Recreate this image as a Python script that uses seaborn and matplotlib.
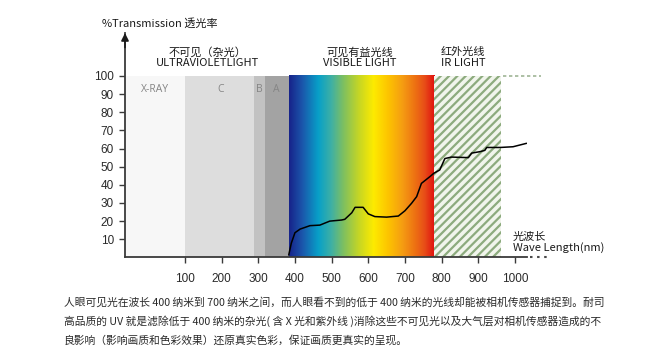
import numpy as np
import pandas as pd
import matplotlib
matplotlib.use("Agg")
import matplotlib.pyplot as plt
from matplotlib.colors import LinearSegmentedColormap
import seaborn as sns

# ---------------- data ----------------
wavelength = [383, 390, 400, 414, 441, 468, 495, 527, 536, 555, 564, 586, 600, 618,
              650, 682, 700, 718, 732, 745, 768, 779, 795, 809, 827, 873, 882, 905,
              918, 923, 960, 995, 1032]
transmission = [1.3, 7.8, 13.6, 15.6, 17.5, 17.8, 20.0, 20.6, 21.0, 24.6, 27.6, 27.6, 24.0, 22.5,
                22.2, 22.8, 25.7, 29.8, 33.5, 40.8, 44.5, 46.4, 48.2, 54.5, 55.3, 55.0, 57.5, 58.3,
                59.0, 60.6, 60.6, 61.0, 62.9]

band_names = ["X-RAY", "C", "B", "A"]
band_edges = [-63.6, 100, 289, 318, 383]
band_label_x = [18, 198, 302, 348]
visible_range = [383, 779]
ir_range = [779, 961]

x_ticks = [100, 200, 300, 400, 500, 600, 700, 800, 900, 1000]
y_ticks = [10, 20, 30, 40, 50, 60, 70, 80, 90, 100]

spectrum_stops = [0.0, 0.09, 0.2, 0.29, 0.37, 0.48, 0.58, 0.68, 0.78, 0.86, 0.93, 1.0]
spectrum_colors = ["#17238a", "#1b56ab", "#07a0c8", "#3fb0a4", "#7cbf62", "#c6d624",
                   "#fdeb00", "#fdc400", "#f59c12", "#ee7412", "#e84e18", "#e01010"]

y_title = "%Transmission 透光率"
x_title_cn = "光波长"
x_title_en = "Wave Length(nm)"
group_cn = ["不可见（杂光）", "可见有益光线", "红外光线"]
group_en = ["ULTRAVIOLETLIGHT", "VISIBLE LIGHT", "IR LIGHT"]
caption = ["人眼可见光在波长 400 纳米到 700 纳米之间，而人眼看不到的低于 400 纳米的光线却能被相机传感器捕捉到。耐司",
           "高品质的 UV 就是滤除低于 400 纳米的杂光( 含 X 光和紫外线 )消除这些不可见光以及大气层对相机传感器造成的不",
           "良影响（影响画质和色彩效果）还原真实色彩，保证画质更真实的呈现。"]

# ---------------- style ----------------
sns.set_theme(style="white")
plt.rcParams["font.family"] = ["Noto Sans CJK SC", "DejaVu Sans"]
plt.rcParams["hatch.linewidth"] = 1.6
plt.rcParams["hatch.color"] = "#8dab7e"

W, H = 670, 352
fig = plt.figure(figsize=(W / 100, H / 100), dpi=100)
ax_l, ax_r, ax_b, ax_t = 125, 527, 257.4, 33
ax = fig.add_axes([ax_l / W, 1 - ax_b / H, (ax_r - ax_l) / W, (ax_b - ax_t) / H])
XMIN, XMAX, YMAX = -63.6, 1033, 123.7
ax.set_xlim(XMIN, XMAX)
ax.set_ylim(0, YMAX)

def fpx(x, y):
    return x / W, 1 - y / H

# gray UV / X-ray bands
band_colors = ["#f7f7f7", "#dddddd", "#c2c2c2", "#a3a3a3"]
for i in range(len(band_names)):
    ax.fill_between([band_edges[i], band_edges[i + 1]], 0, 100, color=band_colors[i],
                    linewidth=0, zorder=1)
    ax.text(band_label_x[i], 92.3, band_names[i], ha="center", va="center",
            fontsize=7.5, color="#858585", zorder=3,
            family=["Open Sans", "DejaVu Sans"])

# visible spectrum gradient
cmap = LinearSegmentedColormap.from_list("spec", list(zip(spectrum_stops, spectrum_colors)))
grad = np.linspace(0, 1, 512).reshape(1, -1)
ax.imshow(grad, cmap=cmap, aspect="auto", extent=[visible_range[0], visible_range[1], 0, 100],
          interpolation="bilinear", zorder=1)

# IR hatched band
ax.fill_between(ir_range, 0, 100, facecolor="#f1f5ec", edgecolor="#8dab7e",
                hatch="////", linewidth=0, zorder=1)
ax.plot([968, 1071], [100, 100], color="#9fb596", lw=1.2, ls=(0, (2, 1.6)),
        clip_on=False, zorder=2)

# transmission curve
df = pd.DataFrame({"wavelength": wavelength, "transmission": transmission})
sns.lineplot(data=df, x="wavelength", y="transmission", ax=ax, color="black",
             linewidth=1.1, zorder=4)

ax.set_xlabel("")
ax.set_ylabel("")
ax.set_xticks(x_ticks)
ax.set_yticks(y_ticks)
ax.set_xticklabels([str(v) for v in x_ticks])
ax.set_yticklabels([str(v) for v in y_ticks])
for s in ["top", "right"]:
    ax.spines[s].set_visible(False)
for s in ["left", "bottom"]:
    ax.spines[s].set_color("#3a3a3a")
    ax.spines[s].set_linewidth(1.3)
    ax.spines[s].set_zorder(5)
ax.tick_params(axis="both", which="major", direction="out", length=4, width=1,
               color="#3a3a3a", labelcolor="#2a2a2a", labelsize=8.5, bottom=True, left=True)
ax.tick_params(axis="x", pad=7)
ax.tick_params(axis="y", pad=4)
for lab in ax.get_xticklabels() + ax.get_yticklabels():
    lab.set_family(["Liberation Sans", "DejaVu Sans"])

# y axis arrow
ax.annotate("", xy=(XMIN, YMAX), xytext=(XMIN, YMAX - 8),
            arrowprops=dict(arrowstyle="-|>", color="#1a1a1a", lw=1.2, mutation_scale=11,
                            shrinkA=0, shrinkB=0),
            annotation_clip=False, zorder=6)
# x axis dotted continuation
ax.plot([1041, 1087], [0, 0], color="#4a4a4a", lw=1.5, ls=(0, (1.2, 2.2)),
        clip_on=False, zorder=5)

# titles
fig.text(*fpx(102, 23), y_title, ha="left", va="center", fontsize=8, color="#1a1a1a")
centers = [207, 360, 463]
for c, cn, en in zip(centers, group_cn, group_en):
    fig.text(*fpx(c, 52), cn, ha="center", va="center", fontsize=8, color="#1a1a1a")
    fig.text(*fpx(c, 63.5), en, ha="center", va="center", fontsize=8, color="#1a1a1a")
fig.text(*fpx(513, 237), x_title_cn, ha="left", va="center", fontsize=8, color="#1a1a1a")
fig.text(*fpx(513, 248), x_title_en, ha="left", va="center", fontsize=8, color="#1a1a1a")

for i, line in enumerate(caption):
    fig.text(*fpx(64, 302 + 19 * i), line, ha="left", va="center", fontsize=7.75, color="#2a2a2a")

fig.savefig("out.png", dpi=100)
